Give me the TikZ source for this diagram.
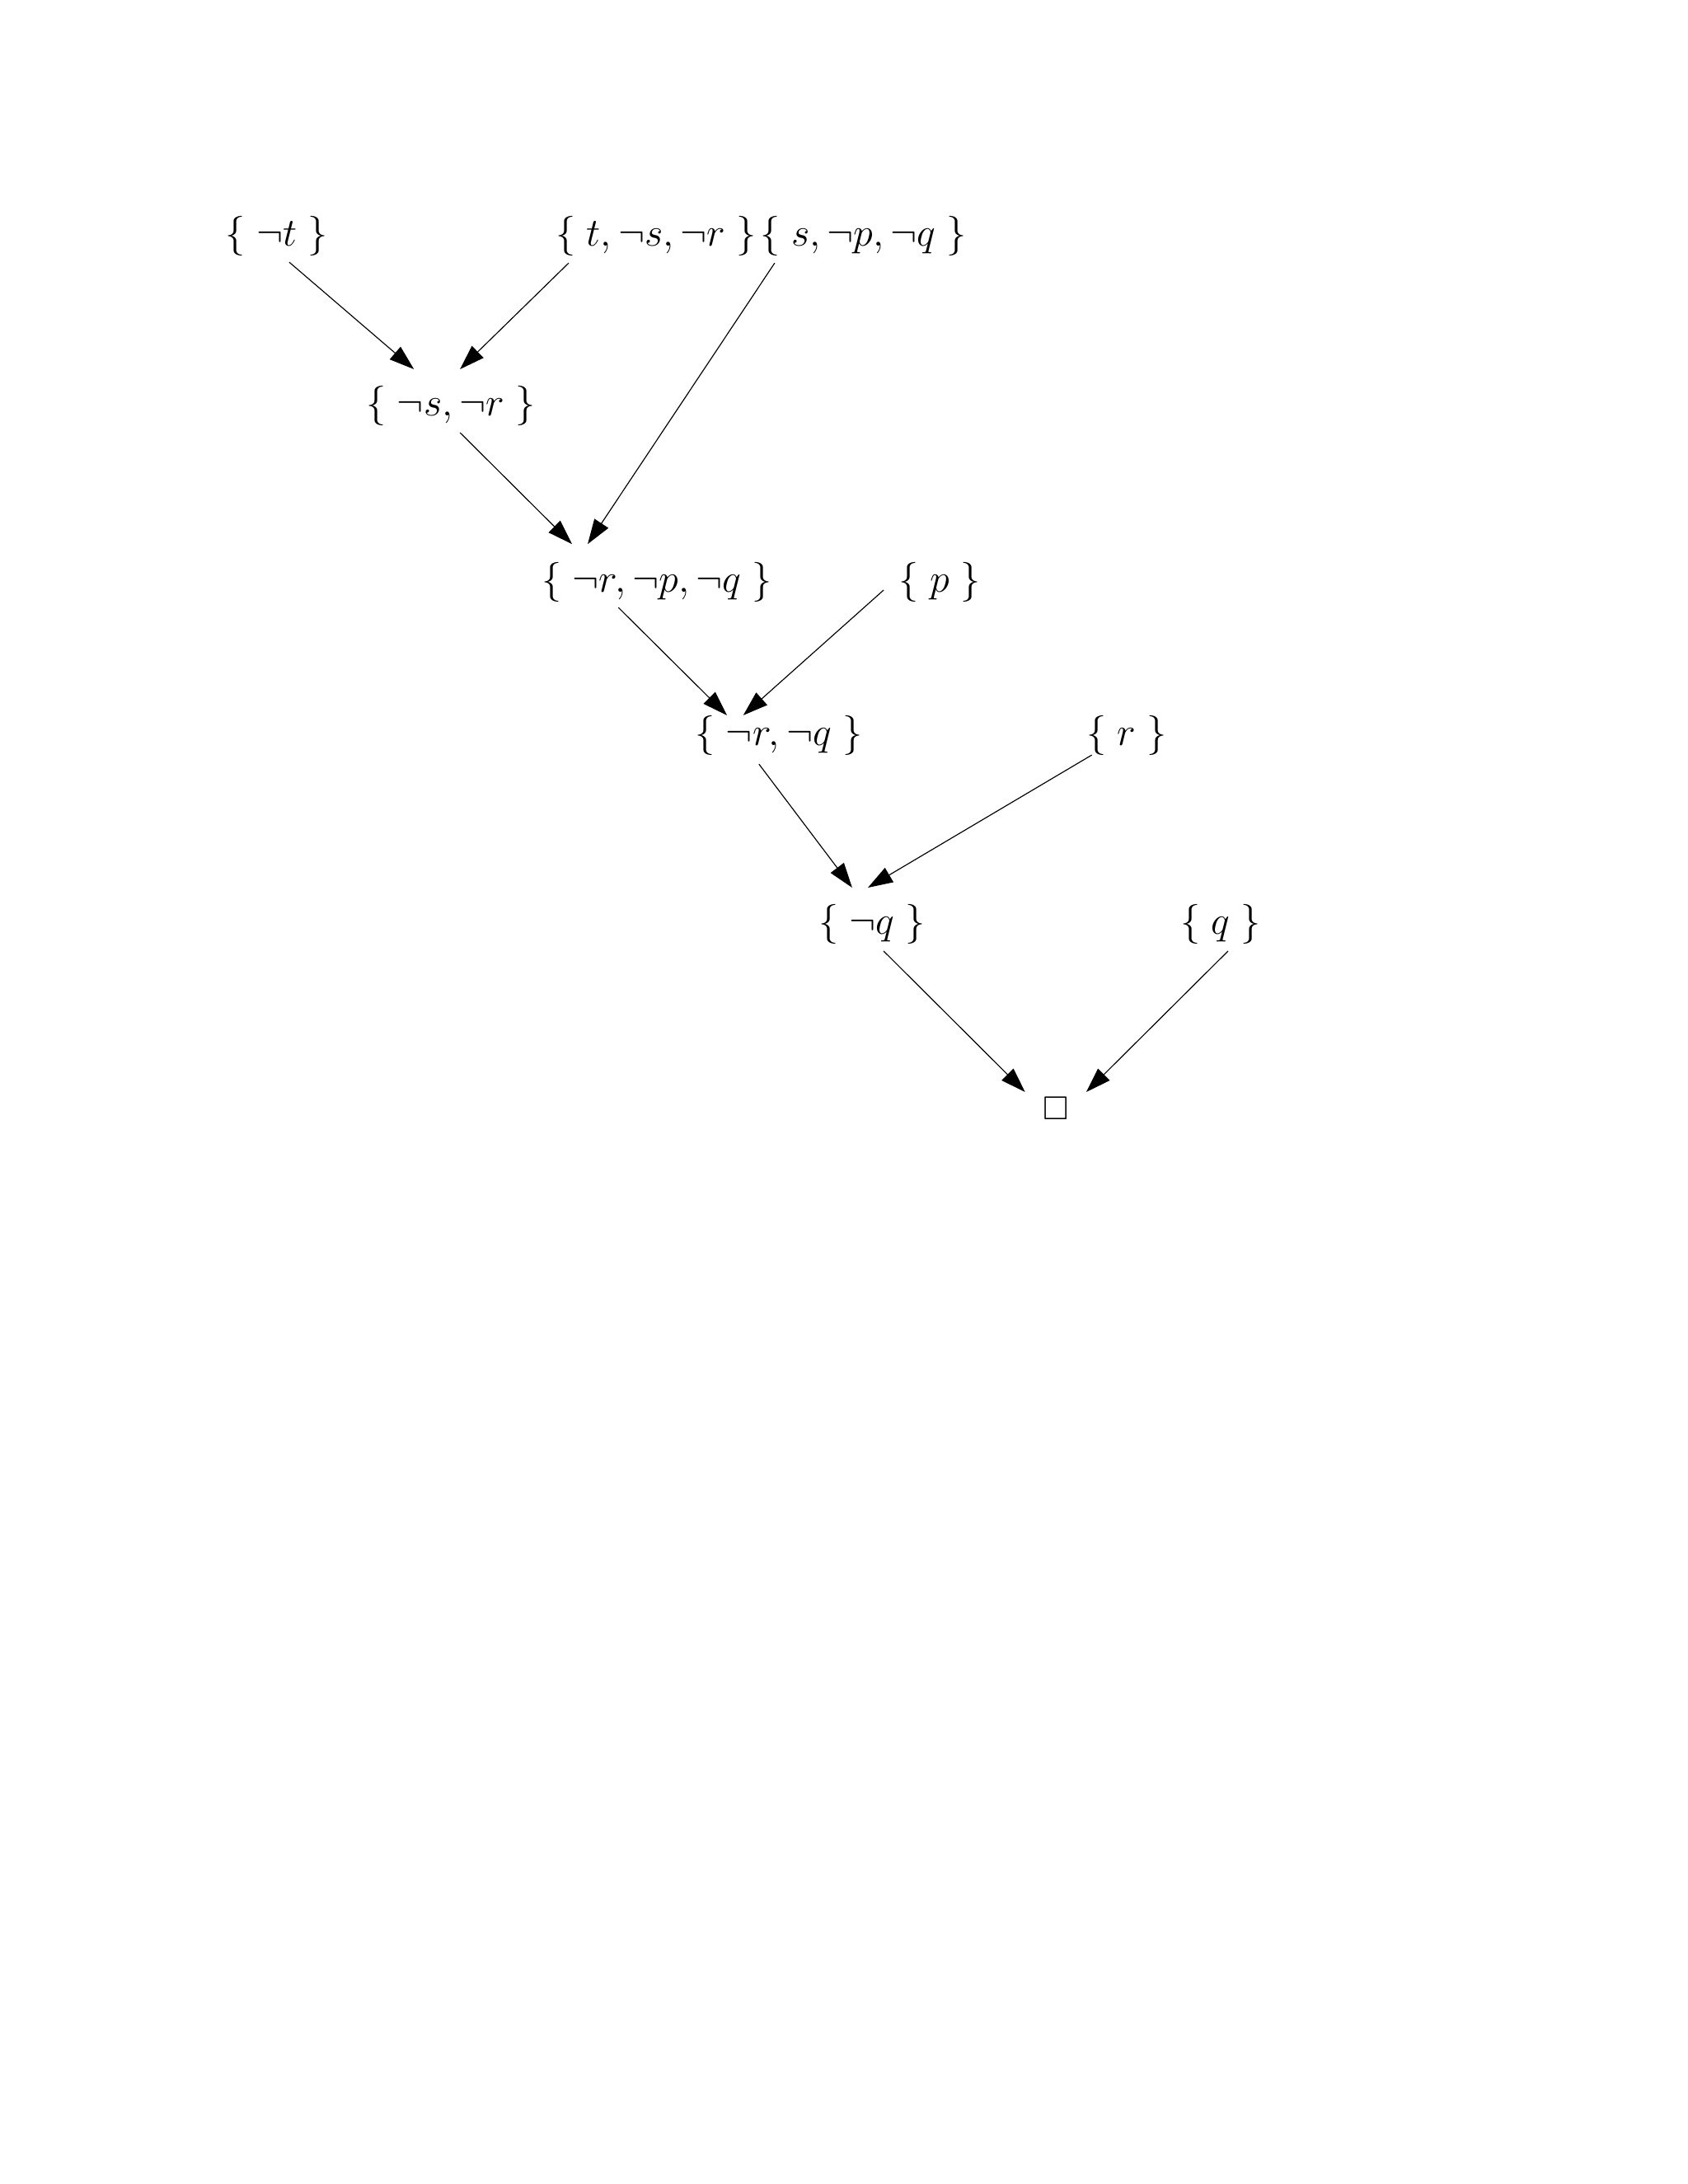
\documentclass[tikz,border=0pt]{standalone}
\usepackage{amssymb}
\usepackage{tikz}
\usetikzlibrary{positioning,arrows.meta}
\tikzset{%
  clauseNode/.style={%
    inner sep=0pt,
    outer sep=0pt,
    font=\fontsize{14}{17}\selectfont
  },
  emptyNode/.style={%
    inner sep=0pt,
    outer sep=0pt,
    font=\fontsize{12}{14}\selectfont
  },
  arrowLine/.style={%
    -{Triangle[length=9pt,width=6pt]},
    line width=0.35pt,
    color=black
  }
}

\begin{document}
\begin{tikzpicture}[on grid]
            \useasboundingbox (0,0) rectangle (612pt,792pt);

            \node[clauseNode] (notT) at (100.4pt,706.5pt) {$\{\;\neg t\;\}$};
            \node[clauseNode, right=137.5pt of notT] (tSR) {$\{\;t, \neg s, \neg r\;\}$};
            \node[clauseNode, right=75.3pt of tSR] (sPQ) {$\{\;s, \neg p, \neg q\;\}$};
            \node[clauseNode, below right=61.8pt and 63.1pt of notT] (notSR) {$\{\;\neg s, \neg r\;\}$};
            \node[clauseNode, below right=63.7pt and 74.7pt of notSR] (notRPQ) {$\{\;\neg r, \neg p, \neg q\;\}$};
            \node[clauseNode, right=102.5pt of notRPQ] (posP) {$\{\;p\;\}$};
            \node[clauseNode, below right=55.6pt and 44.2pt of notRPQ] (notRQ) {$\{\;\neg r, \neg q\;\}$};
            \node[clauseNode, right=126.1pt of notRQ] (posR) {$\{\;r\;\}$};
            \node[clauseNode, below right=68.7pt and 33.8pt of notRQ] (notQ) {$\{\;\neg q\;\}$};
            \node[clauseNode, right=126.4pt of notQ] (posQ) {$\{\;q\;\}$};
            \node[emptyNode, below right=66.7pt and 66.6pt of notQ] (empty) {$\square$};

            \draw[arrowLine] ([shift={(4.5pt,-9.6pt)}]notT.center) -- ([shift={(-13.4pt,13.4pt)}]notSR.center);
            \draw[arrowLine] ([shift={(-31.7pt,-9.9pt)}]tSR.center) -- ([shift={(3.3pt,13.4pt)}]notSR.center);
            \draw[arrowLine] ([shift={(3.3pt,-9.6pt)}]notSR.center) -- ([shift={(-30.8pt,13.7pt)}]notRPQ.center);
            \draw[arrowLine] ([shift={(-32.3pt,-9.9pt)}]sPQ.center) -- ([shift={(-25.1pt,13.7pt)}]notRPQ.center);
            \draw[arrowLine] ([shift={(-14.0pt,-9.3pt)}]notRPQ.center) -- ([shift={(-18.8pt,7.2pt)}]notRQ.center);
            \draw[arrowLine] ([shift={(-20.3pt,-3.0pt)}]posP.center) -- ([shift={(-12.9pt,7.2pt)}]notRQ.center);
            \draw[arrowLine] ([shift={(-7.2pt,-10.5pt)}]notRQ.center) -- ([shift={(-7.2pt,13.4pt)}]notQ.center);
            \draw[arrowLine] ([shift={(-12.6pt,-7.2pt)}]posR.center) -- ([shift={(-1.5pt,13.4pt)}]notQ.center);
            \draw[arrowLine] ([shift={(4.2pt,-9.6pt)}]notQ.center) -- ([shift={(-11.1pt,6.0pt)}]empty.center);
            \draw[arrowLine] ([shift={(2.7pt,-9.6pt)}]posQ.center) -- ([shift={(11.1pt,6.0pt)}]empty.center);
        \end{tikzpicture}
\end{document}
